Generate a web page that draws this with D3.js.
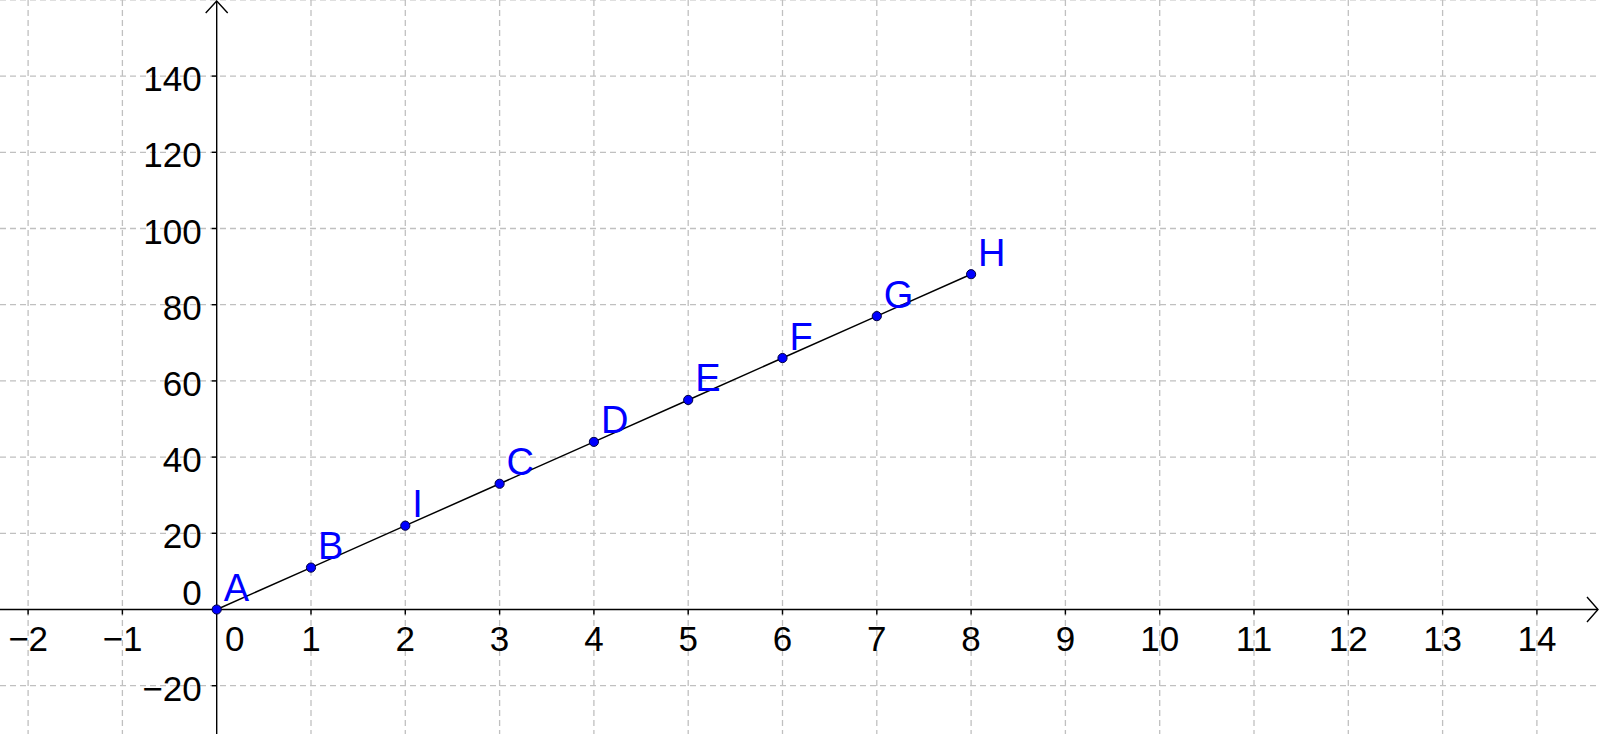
<!DOCTYPE html>
<html>
<head>
<meta charset="utf-8">
<script src="https://cdn.jsdelivr.net/npm/d3@7"></script>
<style>
  html, body { margin: 0; padding: 0; background: #fff; }
  svg { display: block; font-family: "Liberation Sans", Arial, sans-serif; }
</style>
</head>
<body>
<svg id="chart"></svg>
<script>
// points on the line
const pointNames = ['A', 'B', 'I', 'C', 'D', 'E', 'F', 'G', 'H'];
const pointX = [0, 1, 2, 3, 4, 5, 6, 7, 8];
const pointY = [0, 11, 22, 33, 44, 55, 66, 77, 88];

// tick values
const xTicks = [-2, -1, 0, 1, 2, 3, 4, 5, 6, 7, 8, 9, 10, 11, 12, 13, 14];
const yTicks = [-20, 0, 20, 40, 60, 80, 100, 120, 140];
const yGrid = [-20, 0, 20, 40, 60, 80, 100, 120, 140, 160];

const width = 1600, height = 734;

const svg = d3.select('#chart')
    .attr('width', width)
    .attr('height', height);

// view window: origin at (216.7, 609.5), 94.3px per x unit, 3.81px per y unit
const xScale = d3.scaleLinear()
    .domain([-216.7 / 94.3, (width - 216.7) / 94.3])
    .range([0, width]);

const yScale = d3.scaleLinear()
    .domain([-(height - 609.5) / 3.81, 609.5 / 3.81])
    .range([height, 0]);

const minus = v => String(v).replace('-', '\u2212');

// grid
const grid = svg.append('g')
    .attr('stroke', '#c0c0c0')
    .attr('stroke-width', 1.3)
    .attr('stroke-dasharray', '6,4');

grid.selectAll('.gx')
    .data(xTicks.filter(d => d !== 0))
    .enter().append('line')
    .attr('x1', d => xScale(d)).attr('x2', d => xScale(d))
    .attr('y1', 0).attr('y2', height);

grid.selectAll('.gy')
    .data(yGrid.filter(d => d !== 0))
    .enter().append('line')
    .attr('y1', d => yScale(d)).attr('y2', d => yScale(d))
    .attr('x1', 0).attr('x2', width);

// axes
const x0 = xScale(0), y0 = yScale(0);
const axes = svg.append('g')
    .attr('stroke', '#000')
    .attr('stroke-width', 1.4)
    .attr('fill', 'none');

axes.append('line').attr('x1', 0).attr('x2', width - 2).attr('y1', y0).attr('y2', y0);
axes.append('path')
    .attr('d', `M${width - 13},${y0 - 12.5}L${width - 2},${y0}L${width - 13},${y0 + 12.5}`);

axes.append('line').attr('x1', x0).attr('x2', x0).attr('y1', height).attr('y2', 1);
axes.append('path')
    .attr('d', `M${x0 - 11},${13}L${x0},${1}L${x0 + 11},${13}`);

// tick marks
axes.selectAll('.tx')
    .data(xTicks.filter(d => d !== 0))
    .enter().append('line')
    .attr('x1', d => xScale(d)).attr('x2', d => xScale(d))
    .attr('y1', y0).attr('y2', y0 + 5);

axes.selectAll('.ty')
    .data(yTicks.filter(d => d !== 0))
    .enter().append('line')
    .attr('y1', d => yScale(d)).attr('y2', d => yScale(d))
    .attr('x1', x0 - 5).attr('x2', x0);

// tick labels
svg.append('g').selectAll('text')
    .data(xTicks)
    .enter().append('text')
    .attr('x', d => xScale(d) + (d === 0 ? 18 : 0))
    .attr('y', y0 + 41)
    .attr('text-anchor', 'middle')
    .attr('font-size', 35)
    .attr('fill', '#000')
    .text(minus);

svg.append('g').selectAll('text')
    .data(yTicks)
    .enter().append('text')
    .attr('x', x0 - 15)
    .attr('y', d => d === 0 ? y0 - 4.5 : yScale(d) + 15)
    .attr('text-anchor', 'end')
    .attr('font-size', 35)
    .attr('fill', '#000')
    .text(minus);

// segment A-H
const pts = pointNames.map((n, i) => ({ name: n, x: pointX[i], y: pointY[i] }));
const sorted = pts.slice().sort((a, b) => a.x - b.x);

svg.append('path')
    .datum(sorted)
    .attr('fill', 'none')
    .attr('stroke', '#000')
    .attr('stroke-width', 1.5)
    .attr('d', d3.line().x(d => xScale(d.x)).y(d => yScale(d.y)));

// points
svg.append('g').selectAll('circle')
    .data(pts)
    .enter().append('circle')
    .attr('cx', d => xScale(d.x))
    .attr('cy', d => yScale(d.y))
    .attr('r', 4.6)
    .attr('fill', '#0000ff')
    .attr('stroke', '#000040')
    .attr('stroke-width', 1);

svg.append('g').selectAll('text')
    .data(pts)
    .enter().append('text')
    .attr('x', d => xScale(d.x) + 7)
    .attr('y', d => yScale(d.y) - 8.5)
    .attr('font-size', 38)
    .attr('fill', '#0000ff')
    .text(d => d.name);
</script>
</body>
</html>
